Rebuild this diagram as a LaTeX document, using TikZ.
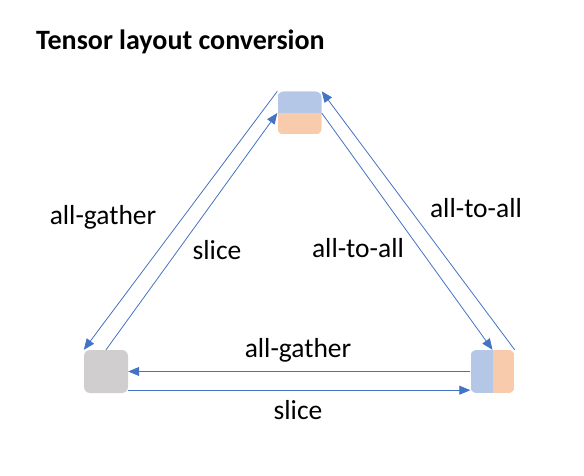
\documentclass[tikz,border=0pt]{standalone}
\usepackage{fontspec}
\setmainfont{Carlito}
\usetikzlibrary{arrows.meta}
\definecolor{arrowblue}{HTML}{4472C4}
\definecolor{lightblue}{HTML}{B4C7E7}
\definecolor{lightorange}{HTML}{F8CBAD}
\definecolor{lightgray}{HTML}{D0CECE}
\tikzset{
  tensor/.style={minimum width=44pt,minimum height=43pt,rounded corners=6pt,inner sep=0pt},
  conv/.style={arrowblue,line width=0.8pt,-{Triangle[length=11pt,width=9pt]}},
  lbl/.style={font=\fontsize{27.5}{32}\selectfont}
}
\begin{document}
\begin{tikzpicture}[x=1pt,y=-1pt]
    \useasboundingbox (0,0) rectangle (584,476);
    \node[anchor=base west,inner sep=0pt,font=\bfseries\fontsize{28}{32}\selectfont] (title) at (36,50){Tensor layout conversion};
    % the three layouts
    \node[tensor,path picture={
        \fill[lightblue,sharp corners] (path picture bounding box.north west) rectangle (path picture bounding box.east);
        \fill[lightorange,sharp corners] (path picture bounding box.west) rectangle (path picture bounding box.south east);}] (top) at (299.5,113){};
    \node[tensor,fill=lightgray] (gray) at (106,371.5){};
    \node[tensor,path picture={
        \fill[lightblue,sharp corners] (path picture bounding box.north west) rectangle (path picture bounding box.south);
        \fill[lightorange,sharp corners] (path picture bounding box.north) rectangle (path picture bounding box.south east);}] (right) at (492.5,371.5){};
    % conversions
    \draw[conv] (top.north west) -- (gray.north west);
    \draw[conv] (gray.north) -- (top.west);
    \draw[conv] (top.east) -- (right.north);
    \draw[conv] (right.north east) -- (top.north east);
    \draw[conv] (right.west) -- (gray.east);
    \draw[conv] ([yshift=3pt]gray.south east) -- ([yshift=3pt]right.south west);
    \node[lbl] (gatherl) at (103,217){all-gather};
    \node[lbl] (slicel) at (217,250){slice};
    \node[lbl] (alltoalli) at (358,248){all-to-all};
    \node[lbl] (alltoallo) at (476,208){all-to-all};
    \node[lbl] (gatherb) at (298,350){all-gather};
    \node[lbl] (sliceb) at (298,410){slice};
\end{tikzpicture}
\end{document}
